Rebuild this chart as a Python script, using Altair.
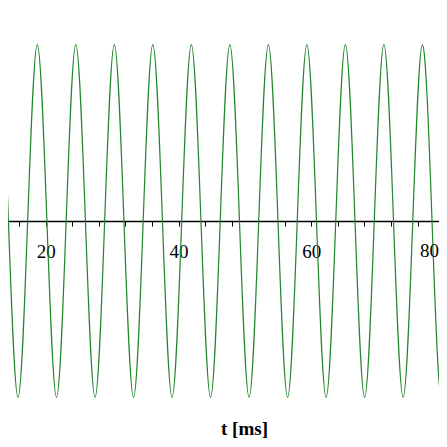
"""
Sine signal over time, zero line drawn as the time axis.
"""

import altair as alt
import pandas as pd

# times (ms) of peaks, zero crossings and troughs
t_ms = [11.48, 12.93, 14.38, 15.83, 17.28, 18.73, 20.18, 21.63, 23.08,
        24.53, 25.98, 27.43, 28.88, 30.33, 31.78, 33.23, 34.68, 36.13,
        37.58, 39.03, 40.48, 41.93, 43.38, 44.83, 46.28, 47.73, 49.18,
        50.63, 52.08, 53.53, 54.98, 56.43, 57.88, 59.33, 60.78, 62.23,
        63.68, 65.13, 66.58, 68.03, 69.48, 70.93, 72.38, 73.83, 75.28,
        76.73, 78.18, 79.63, 81.08, 82.53]
signal = [0, 1, 0, -1, 0, 1, 0, -1, 0,
          1, 0, -1, 0, 1, 0, -1, 0, 1,
          0, -1, 0, 1, 0, -1, 0, 1, 0,
          -1, 0, 1, 0, -1, 0, 1, 0, -1,
          0, 1, 0, -1, 0, 1, 0, -1, 0,
          1, 0, -1, 0, 1]

tick_values = [16, 20, 24, 28, 32, 36, 40, 44, 48, 52, 56, 60, 64, 68,
               72, 76, 80]
# last tick label sits at the right edge of the frame
edge_label_t = [80]
edge_label = ['80']


def main():
    df = pd.DataFrame({'t': t_ms, 'v': signal})
    edge = pd.DataFrame({'t': edge_label_t, 'v': [0], 'label': edge_label})

    x_scale = alt.Scale(domain=[14.32, 79.23], nice=False, zero=False)
    y_scale = alt.Scale(domain=[-1.2365, 1.208], nice=False, zero=False)

    x_axis = alt.Axis(
        values=tick_values,
        labelExpr="datum.value % 20 === 0 ? datum.label : ''",
        offset=-218,
        grid=False,
        tickSize=5,
        tickWidth=1,
        tickColor='black',
        domainColor='black',
        domainWidth=1.3,
        labelFont='Liberation Serif',
        labelFontSize=19,
        labelColor='black',
        labelPadding=16,
        labelFlush=False,
        labelOverlap=False,
        labelBound=False,
        title='t [ms]',
        titleFont='Liberation Serif',
        titleFontSize=19,
        titleFontWeight='bold',
        titleColor='black',
        titleX=236,
        titleY=213,
        titleAlign='center',
        titleBaseline='alphabetic',
        titleAngle=0,
    )

    wave = alt.Chart(df).mark_line(
        color='#23862a', strokeWidth=1.2, interpolate='natural', clip=True
    ).encode(
        alt.X('t:Q', scale=x_scale, axis=x_axis),
        alt.Y('v:Q', scale=y_scale, axis=None),
    )

    edge_text = alt.Chart(edge).mark_text(
        align='right', baseline='alphabetic', dx=-5, dy=36,
        font='Liberation Serif', fontSize=19, color='black'
    ).encode(
        alt.X('t:Q', scale=x_scale, axis=None),
        alt.Y('v:Q', scale=y_scale, axis=None),
        text='label:N',
    )

    chart = (wave + edge_text).resolve_axis(x='independent').properties(
        width=431, height=431, padding=0,
        autosize=alt.AutoSizeParams(type='none'),
    ).configure_view(stroke=None)

    chart.save("out.html", embed_options={"renderer": "svg",
                                          "actions": False})


if __name__ == "__main__":
    main()
